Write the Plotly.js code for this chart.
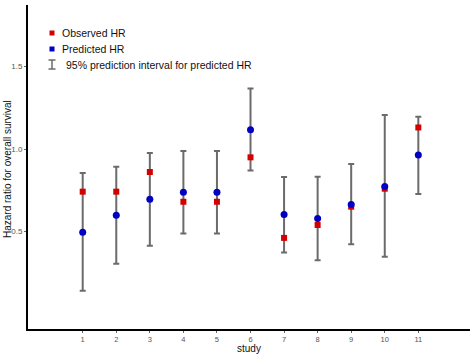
<!DOCTYPE html>
<html>
<head>
<meta charset="utf-8">
<script src="https://cdn.plot.ly/plotly-3.0.1.min.js"></script>
<style>
html,body{margin:0;padding:0;background:#fff;}
#chart{width:474px;height:354px;}
</style>
</head>
<body>
<div id="chart"></div>
<script>
var study = [1, 2, 3, 4, 5, 6, 7, 8, 9, 10, 11];
var tickLabels = ["1","2","3","4","5","6","7","8","9","10","11"];
var observedHR = [0.742, 0.742, 0.861, 0.681, 0.681, 0.950, 0.462, 0.540, 0.651, 0.760, 1.131];
var predictedHR = [0.496, 0.599, 0.696, 0.738, 0.738, 1.117, 0.603, 0.579, 0.665, 0.774, 0.964];
var piLower = [0.141, 0.306, 0.415, 0.488, 0.488, 0.871, 0.373, 0.327, 0.423, 0.347, 0.728];
var piUpper = [0.855, 0.893, 0.976, 0.988, 0.988, 1.367, 0.831, 0.833, 0.909, 1.206, 1.196];

var errPlus = piUpper.map(function(u, i){ return u - predictedHR[i]; });
var errMinus = predictedHR.map(function(p, i){ return p - piLower[i]; });

var font = "Liberation Sans, Arial, sans-serif";

var traces = [
  {
    x: study, y: predictedHR, type: 'scatter', mode: 'markers',
    marker: {size: 6, color: 'rgba(0,0,0,0)'},
    error_y: {type: 'data', symmetric: false, array: errPlus, arrayminus: errMinus,
              color: '#6b6b6b', thickness: 2, width: 3},
    showlegend: false, hoverinfo: 'skip'
  },
  {
    x: study, y: observedHR, type: 'scatter', mode: 'markers', name: 'Observed HR',
    marker: {symbol: 'square', size: 6, color: '#d40000'},
    showlegend: false
  },
  {
    x: study, y: predictedHR, type: 'scatter', mode: 'markers', name: 'Predicted HR',
    marker: {symbol: 'circle', size: 7, color: '#0000c4'},
    showlegend: false
  }
];

var X0 = 28, X1 = 470, Y0 = 5, Y1 = 329;
function px(x){ return (x - X0) / (X1 - X0); }
function py(y){ return (Y1 - y) / (Y1 - Y0); }

var legendText = ["Observed HR", "Predicted HR", "95% prediction interval for predicted HR"];

var layout = {
  width: 474, height: 354,
  margin: {l: 28, r: 4, t: 5, b: 25},
  paper_bgcolor: '#fff', plot_bgcolor: '#fff',
  font: {family: font},
  showlegend: false,
  xaxis: {
    range: [-0.63, 12.54], tickvals: study, ticktext: tickLabels,
    showgrid: false, zeroline: false,
    showline: true, linecolor: '#000', linewidth: 2,
    ticks: 'outside', ticklen: 2, tickwidth: 1, tickcolor: '#666',
    tickfont: {size: 7.5, color: '#555', family: font},
    automargin: false
  },
  yaxis: {
    range: [-0.09, 1.873], tickvals: [0.5, 1.0, 1.5], ticktext: ['0.5','1.0','1.5'],
    showgrid: false, zeroline: false,
    showline: true, linecolor: '#000', linewidth: 2,
    ticks: 'outside', ticklen: 2, tickwidth: 1, tickcolor: '#666',
    tickfont: {size: 8, color: '#555', family: font},
    automargin: false
  },
  shapes: [
    {type: 'rect', xref: 'paper', yref: 'paper', x0: px(49.5), x1: px(54.5), y0: py(35.5), y1: py(30.5),
     fillcolor: '#d40000', line: {width: 0}},
    {type: 'rect', xref: 'paper', yref: 'paper', x0: px(49.5), x1: px(54.5), y0: py(51.5), y1: py(46.5),
     fillcolor: '#0000c4', line: {width: 0}},
    {type: 'line', xref: 'paper', yref: 'paper', x0: px(52), x1: px(52), y0: py(60), y1: py(69),
     line: {color: '#6b6b6b', width: 1.5}},
    {type: 'line', xref: 'paper', yref: 'paper', x0: px(48.5), x1: px(55.5), y0: py(60), y1: py(60),
     line: {color: '#6b6b6b', width: 1.5}},
    {type: 'line', xref: 'paper', yref: 'paper', x0: px(48.5), x1: px(55.5), y0: py(69), y1: py(69),
     line: {color: '#6b6b6b', width: 1.5}}
  ],
  annotations: [
    {xref: 'paper', yref: 'paper', x: px(60), y: py(33), xanchor: 'left', yanchor: 'middle',
     text: legendText[0], showarrow: false, font: {size: 10.5, color: '#111', family: font}},
    {xref: 'paper', yref: 'paper', x: px(60), y: py(49), xanchor: 'left', yanchor: 'middle',
     text: legendText[1], showarrow: false, font: {size: 10.5, color: '#111', family: font}},
    {xref: 'paper', yref: 'paper', x: px(64), y: py(65), xanchor: 'left', yanchor: 'middle',
     text: legendText[2], showarrow: false, font: {size: 10.5, color: '#111', family: font}},
    {xref: 'paper', yref: 'paper', x: px(7), y: py(169), xanchor: 'center', yanchor: 'middle',
     textangle: -90, text: 'Hazard ratio for overall survival', showarrow: false,
     font: {size: 10, color: '#111', family: font}},
    {xref: 'paper', yref: 'paper', x: px(249), y: py(348), xanchor: 'center', yanchor: 'middle',
     text: 'study', showarrow: false, font: {size: 10, color: '#111', family: font}}
  ]
};

Plotly.newPlot('chart', traces, layout, {displayModeBar: false, staticPlot: true});
</script>
</body>
</html>
